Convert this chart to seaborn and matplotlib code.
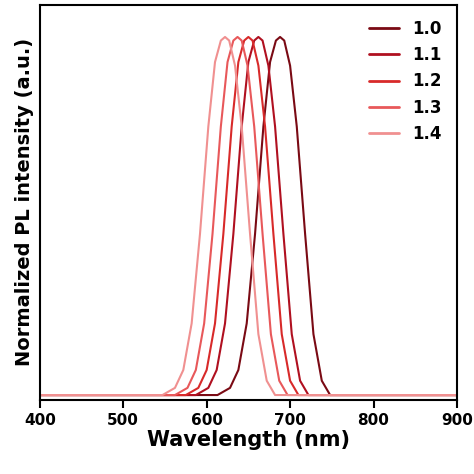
import matplotlib
matplotlib.use("Agg")
import matplotlib.pyplot as plt
import seaborn as sns
import pandas as pd

sns.set_theme(style="ticks")
plt.rcParams['font.family'] = ['DejaVu Sans']
plt.rcParams['text.color'] = 'black'
plt.rcParams['axes.labelcolor'] = 'black'
plt.rcParams['xtick.color'] = 'black'
plt.rcParams['axes.edgecolor'] = 'black'

labels = ["1.0", "1.1", "1.2", "1.3", "1.4"]
colors = ["#7a0a14", "#b01020", "#d82a2a", "#e8585a", "#f09090"]
intensity = [0, 0, 0.02, 0.07, 0.2, 0.45, 0.75, 0.93, 0.99, 1.0, 0.99, 0.92, 0.75, 0.45, 0.17, 0.04, 0.0, 0]
wl_10 = [400, 613, 628, 638, 648, 658, 668, 676, 683, 688, 693, 700, 708, 718, 728, 738, 748, 900]
wl_11 = [400, 587, 602, 612, 622, 632, 642, 650, 657, 662, 667, 674, 682, 692, 702, 712, 722, 900]
wl_12 = [400, 575, 590, 600, 610, 620, 630, 638, 645, 650, 655, 662, 670, 680, 690, 700, 710, 900]
wl_13 = [400, 562, 577, 587, 597, 607, 617, 625, 632, 637, 642, 649, 657, 667, 677, 687, 697, 900]
wl_14 = [400, 547, 562, 572, 582, 592, 602, 610, 617, 622, 627, 634, 642, 652, 662, 672, 682, 900]
wls = [wl_10, wl_11, wl_12, wl_13, wl_14]

rows = []
for lab, wl in zip(labels, wls):
    for w, v in zip(wl, intensity):
        rows.append({"wl": w, "I": v, "s": lab})
df = pd.DataFrame(rows)

fig = plt.figure(figsize=(4.74, 4.74), dpi=100)
ax = fig.add_axes([0.084, 0.156, 0.88, 0.834])
sns.lineplot(data=df, x="wl", y="I", hue="s", palette=colors, ax=ax, lw=1.5, sort=False)
ax.set_xlim(400, 900)
ax.set_ylim(-0.014, 1.09)
ax.set_yticks([])
ax.set_xticks(range(400, 901, 100))
for t in ax.get_xticklabels():
    t.set_fontweight("bold")
ax.tick_params(axis="x", labelsize=11, direction="out", width=1.5)
for s in ax.spines.values():
    s.set_linewidth(1.5)
ax.set_xlabel("Wavelength (nm)", fontsize=15, fontweight="bold", labelpad=1)
ax.set_ylabel("Normalized PL intensity (a.u.)", fontsize=14, fontweight="bold", labelpad=4)
leg = ax.legend(loc="upper right", frameon=False, prop={"weight": "bold", "size": 12}, handlelength=1.8)
leg.set_title(None)
for l in leg.get_lines():
    l.set_linewidth(2)
fig.savefig("out.png", dpi=100)
